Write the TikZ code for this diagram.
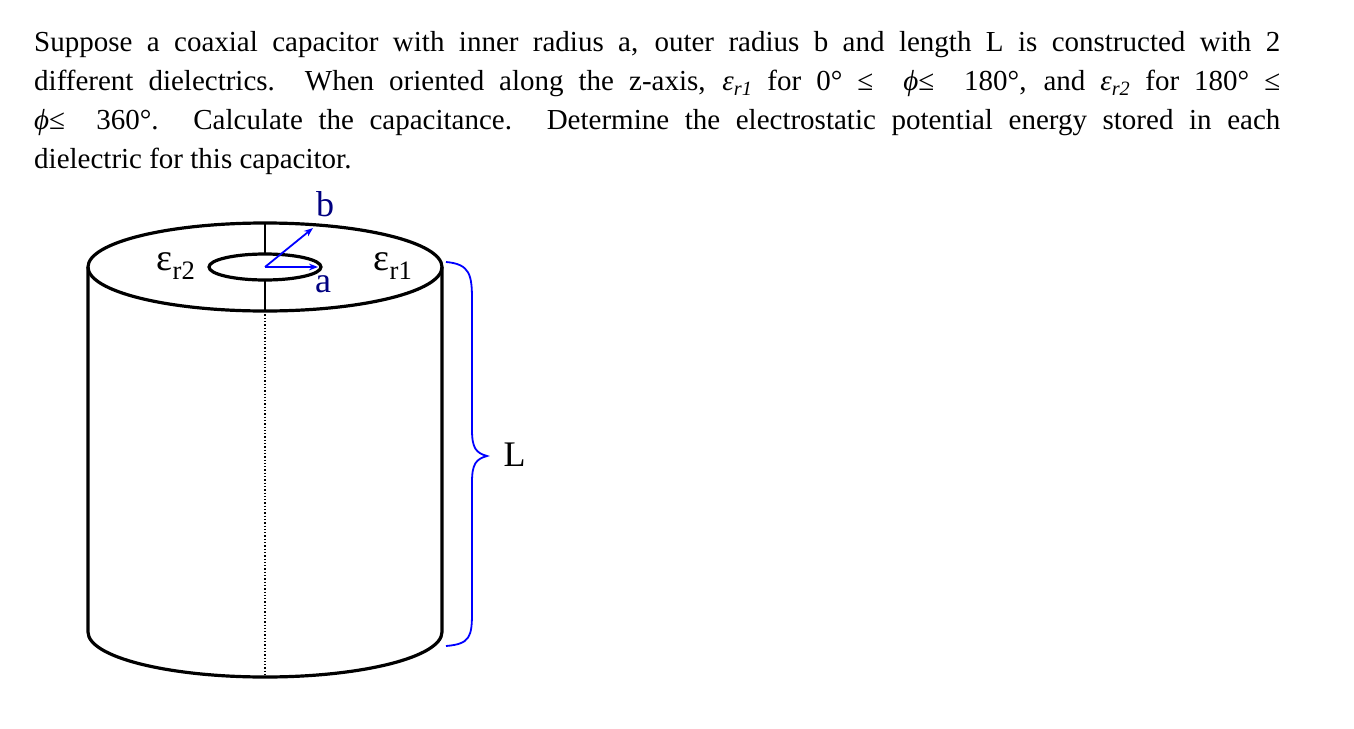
\documentclass[tikz,border=0pt]{standalone}
\usepackage{fontspec}
\setmainfont{Liberation Serif}
\usetikzlibrary{arrows.meta}
\begin{document}
\begin{tikzpicture}[x=1pt,y=-1pt,
  thick line/.style={line width=3.2pt},
  bluearrow/.style={blue,line width=1.8pt,-{Stealth[length=9pt]}},
  lbl/.style={text=blue!50!black,font=\fontsize{36}{36}\selectfont}]
\useasboundingbox (0,0) rectangle (1354,728);
\node[anchor=north west,inner sep=0pt,text width=1246pt,align=justify,
  font=\fontsize{29}{39}\selectfont] (txt) at (34,31)
 {Suppose a coaxial capacitor with inner radius a, outer radius b and length L is constructed with 2\linebreak
 different dielectrics.\ \ When oriented along the z-axis, \textit{ε\textsubscript{r1}} for 0°\ ≤\ \ \textit{ϕ}≤\ \ 180°, and \textit{ε\textsubscript{r2}} for 180°\ ≤\linebreak
 \textit{ϕ}≤\ \ 360°. Calculate the capacitance. Determine the electrostatic potential energy stored in each\linebreak
 dielectric for this capacitor.};
% axis
\draw[line width=1.3pt] (265,223) -- (265,253);
\draw[line width=1.3pt] (265,280) -- (265,311);
\draw[line width=1.3pt,dotted] (265,311) -- (265,677);
% cylinder
\draw[thick line] (88,267) -- (88,632) arc[start angle=180,end angle=0,x radius=177,y radius=45] -- (442,267);
\draw[thick line] (265,267) ellipse[x radius=177,y radius=44];
\draw[thick line,fill=white] (265,267) ellipse[x radius=56,y radius=13];
\coordinate (c) at (265,267);
\coordinate (bt) at (313,228);
\coordinate (at) at (318,267);
\draw[bluearrow] (c) -- (bt);
\draw[bluearrow] (c) -- (at);
\node[lbl] (b) at (325,204) {b};
\node[lbl] (a) at (323,284) {a};
\node[font=\fontsize{38}{38}\selectfont] (e2) at (176,266) {ε\textsubscript{r2}};
\node[font=\fontsize{38}{38}\selectfont] (e1) at (393,266) {ε\textsubscript{r1}};
% brace
\draw[blue,line width=1.8pt] (446,262) .. controls (470,264) and (472,275) .. (472,300)
  -- (472,430) .. controls (472,448) and (476,453) .. (487,456)
  .. controls (476,459) and (472,464) .. (472,482) -- (472,612)
  .. controls (472,637) and (470,644) .. (446,646);
\node[font=\fontsize{36}{36}\selectfont,anchor=west] (L) at (500,455) {L};
\end{tikzpicture}
\end{document}
